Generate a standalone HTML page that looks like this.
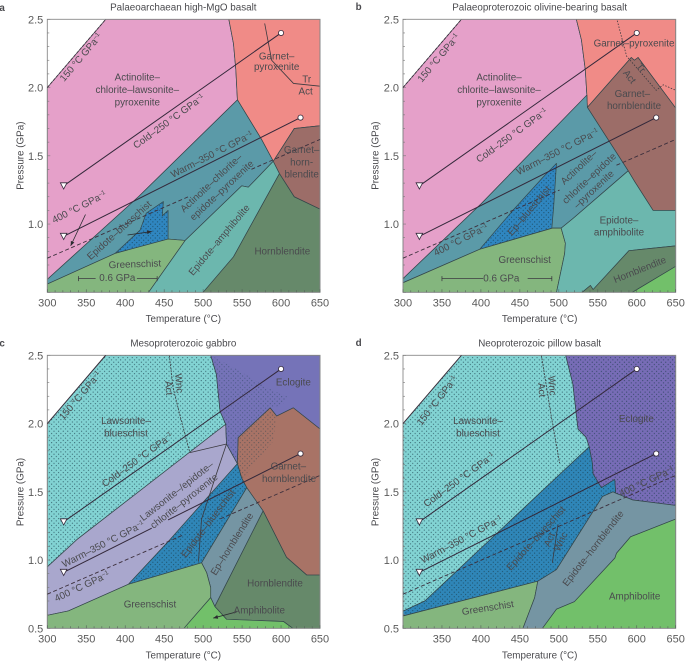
<!DOCTYPE html>
<html lang="en">
<head>
<meta charset="utf-8">
<title>Metamorphic phase diagrams</title>
<style>
html,body{margin:0;padding:0;background:#fff;width:685px;height:662px;overflow:hidden}
svg{display:block;filter:blur(0.25px)}
text{font-family:"Liberation Sans",sans-serif}
.lab text{font-size:29.5px;fill:#4a4a4e;text-anchor:middle}
.ttl{font-size:29.5px;fill:#55555a;text-anchor:middle}
.sup{font-size:19px}
.let{font-size:33px;font-weight:bold;fill:#222}
</style>
</head>
<body>
<svg id="chart" xmlns="http://www.w3.org/2000/svg" width="685" height="662" viewBox="0 0 685 662">
<defs>
<pattern id="dots" patternUnits="userSpaceOnUse" width="4.6" height="4.6">
<circle cx="1.1" cy="1.1" r="0.48" fill="#173a48"/>
<circle cx="3.4" cy="3.4" r="0.48" fill="#173a48"/>
</pattern>
</defs>
<g id="marks"></g>

<g transform="scale(0.33333)" class="lab">
<text class="let" x="-2" y="33" style="text-anchor:start">a</text>
<text class="ttl" x="550" y="31">Palaeoarchaean high-MgO basalt</text>
<text x="550" y="966">Temperature (°C)</text>
<text transform="translate(70,467) rotate(-90)">Pressure (GPa)</text>
<text transform="translate(250,178) rotate(-50)">150 °C GPa<tspan class="sup" dy="-10">–1</tspan></text>
<text x="412" y="241">Actinolite–</text>
<text x="412" y="279">chlorite–lawsonite–</text>
<text x="412" y="316">pyroxenite</text>
<text transform="translate(512,372) rotate(-36)">Cold–250 °C GPa<tspan class="sup" dy="-10">–1</tspan></text>
<text transform="translate(640,472) rotate(-27)">Warm–350 °C GPa<tspan class="sup" dy="-10">–1</tspan></text>
<text transform="translate(242,630) rotate(-27)">400 °C GPa<tspan class="sup" dy="-10">–1</tspan></text>
<text transform="translate(640,556) rotate(-43)">Actinoite–chlorite–</text>
<text transform="translate(672,578) rotate(-43)">epidote–pyroxenite</text>
<text transform="translate(364,698) rotate(-42)">Epidote–blueschist</text>
<text transform="translate(405,802) rotate(-2)">Greenschist</text>
<text x="352" y="843">0.6 GPa</text>
<text transform="translate(665,726) rotate(-50)">Epidote–amphibolite</text>
<text x="847" y="764">Hornblendite</text>
<text x="830" y="179">Garnet–</text>
<text x="830" y="210">pyroxenite</text>
<text x="920" y="248">Tr</text>
<text x="917" y="284">Act</text>
<text x="905" y="459">Garnet–</text>
<text x="905" y="497">horn-</text>
<text x="905" y="533">blendite</text>
</g>

<g transform="translate(343,0) scale(0.33333)" class="lab">
<text class="let" x="38" y="30" style="text-anchor:start">b</text>
<text class="ttl" x="590" y="31">Palaeoproterozoic olivine-bearing basalt</text>
<text x="590" y="966">Temperature (°C)</text>
<text transform="translate(106,467) rotate(-90)">Pressure (GPa)</text>
<text transform="translate(294,180) rotate(-50)">150 °C GPa<tspan class="sup" dy="-10">–1</tspan></text>
<text x="468" y="241">Actinolite–</text>
<text x="468" y="279">chlorite–lawsonite–</text>
<text x="468" y="316">pyroxenite</text>
<text transform="translate(512,414) rotate(-36)">Cold–250 °C GPa<tspan class="sup" dy="-10">–1</tspan></text>
<text transform="translate(648,464) rotate(-27)">Warm–350 °C GPa<tspan class="sup" dy="-10">–1</tspan></text>
<text transform="translate(358,728) rotate(-27)">400 °C GPa<tspan class="sup" dy="-10">–1</tspan></text>
<text transform="translate(714,509) rotate(-43)">Actinolite–</text>
<text transform="translate(745,542) rotate(-43)">chlorite–epidote</text>
<text transform="translate(759,575) rotate(-43)">–pyroxenite</text>
<text transform="translate(566,638) rotate(-50)">Ep–blueschist</text>
<text x="545" y="789">Greenschist</text>
<text x="475" y="845">0.6 GPa</text>
<text x="828" y="671">Epidote–</text>
<text x="828" y="707">amphibolite</text>
<text transform="translate(894,818) rotate(-22)">Hornblendite</text>
<text x="873" y="140">Garnet–pyroxenite</text>
<text transform="translate(886,210) rotate(52)">Tr</text>
<text transform="translate(852,236) rotate(52)">Act</text>
<text x="868" y="291">Garnet–</text>
<text x="873" y="327">hornblendite</text>
</g>

<g transform="translate(0,331) scale(0.33333)" class="lab">
<text class="let" x="-2" y="46" style="text-anchor:start">c</text>
<text class="ttl" x="550" y="46">Mesoproterozoic gabbro</text>
<text x="550" y="983">Temperature (°C)</text>
<text transform="translate(70,483) rotate(-90)">Pressure (GPa)</text>
<text transform="translate(248,200) rotate(-50)">150 °C GPa<tspan class="sup" dy="-10">–1</tspan></text>
<text x="378" y="279">Lawsonite–</text>
<text x="378" y="316">blueschist</text>
<text transform="translate(418,394) rotate(-36)">Cold–250 °C GPa<tspan class="sup" dy="-10">–1</tspan></text>
<text transform="translate(314,648) rotate(-27)">Warm–350 °C GPa<tspan class="sup" dy="-10">–1</tspan></text>
<text transform="translate(250,775) rotate(-25)">400 °C GPa<tspan class="sup" dy="-10">–1</tspan></text>
<text transform="translate(536,488) rotate(-38)">Lawsonite–/epidote–</text>
<text transform="translate(558,518) rotate(-38)">chlorite–pyroxenite</text>
<text transform="translate(632,583) rotate(-53)">Epidote–blueschist</text>
<text transform="translate(704,644) rotate(-58)">Ep–hornblendite</text>
<text x="825" y="766">Hornblendite</text>
<text x="450" y="830">Greenschist</text>
<text x="778" y="848">Amphibolite</text>
<text x="880" y="164">Eclogite</text>
<text x="865" y="416">Garnet–</text>
<text x="867" y="453">hornblendite</text>
<text transform="translate(528,158) rotate(85)">Wnc</text>
<text transform="translate(497,172) rotate(85)">Act</text>
</g>

<g transform="translate(343,331) scale(0.33333)" class="lab">
<text class="let" x="38" y="45" style="text-anchor:start">d</text>
<text class="ttl" x="590" y="46">Neoproterozoic pillow basalt</text>
<text x="590" y="983">Temperature (°C)</text>
<text transform="translate(106,483) rotate(-90)">Pressure (GPa)</text>
<text transform="translate(290,215) rotate(-52)">150 °C GPa<tspan class="sup" dy="-10">–1</tspan></text>
<text x="405" y="279">Lawsonite–</text>
<text x="405" y="316">blueschist</text>
<text transform="translate(354,454) rotate(-36)">Cold–250 °C GPa<tspan class="sup" dy="-10">–1</tspan></text>
<text transform="translate(360,634) rotate(-28)">Warm–350 °C GPa<tspan class="sup" dy="-10">–1</tspan></text>
<text x="880" y="273">Eclogite</text>
<text transform="translate(915,460) rotate(-25)">400 °C GPa<tspan class="sup" dy="-10">–1</tspan></text>
<text transform="translate(586,628) rotate(-48)">Epidote–blueschist</text>
<text transform="translate(628,630) rotate(-65)">Act</text>
<text transform="translate(662,636) rotate(-65)">Wnc</text>
<text transform="translate(758,658) rotate(-52)">Epidote–hornblendite</text>
<text transform="translate(436,840) rotate(-9)">Greenschist</text>
<text x="875" y="805">Amphibolite</text>
<text transform="translate(618,165) rotate(85)">Wnc</text>
<text transform="translate(587,178) rotate(85)">Act</text>
</g>
</svg>

<script>
// Axis data shared by all panels
const xTickValues = [300, 350, 400, 450, 500, 550, 600, 650];
const yTickValues = [0.5, 1.0, 1.5, 2.0, 2.5];
const xMinorTicks = [310,320,330,340,360,370,380,390,410,420,430,440,460,470,480,490,510,520,530,540,560,570,580,590,610,620,630,640];
const yMinorTicks = [0.6,0.7,0.8,0.9,1.1,1.2,1.3,1.4,1.6,1.7,1.8,1.9,2.1,2.2,2.3,2.4];

// Geotherms (temperature °C, pressure GPa)
const coldGeotherm = [[321, 1.28], [600, 2.4]];
const warmGeotherm = [[321, 0.91], [625, 1.78]];
const geotherm400 = [[300, 0.75], [650, 1.62]];
const geotherm150 = [[300, 2.0], [375, 2.5]];

// Panel a phase fields
const aActinolite = [[300,2.0],[375,2.5],[533,2.5],[539,2.32],[542,2.13],[544,1.91],[417,1.2],[300,0.595]];
const aGarnetPyroxenite = [[533,2.5],[650,2.5],[650,1.72],[617,1.7],[590,1.46],[575,1.62],[544,1.91],[542,2.13],[539,2.32]];
const aActChlEp = [[544,1.91],[575,1.62],[590,1.46],[558,1.27],[549.5,1.28],[477,0.88],[455,0.89],[387,0.785],[300,0.56],[300,0.595],[417,1.2]];
const aBlueschist = [[387,0.785],[419,0.955],[427,1.08],[449,1.165],[447.5,1.06],[455,1.1],[455,0.89]];
const aGreenschist = [[300,0.5],[430,0.5],[477,0.88],[455,0.89],[387,0.785],[300,0.56]];
const aAmphibolite = [[430,0.5],[477,0.88],[549.5,1.28],[558,1.27],[590,1.46],[598,1.37],[539,0.76],[500,0.5]];
const aHornblendite = [[500,0.5],[539,0.76],[598,1.37],[617,1.2],[650,1.11],[650,0.5]];
const aGarnetHornblendite = [[590,1.46],[617,1.7],[650,1.72],[650,1.11],[617,1.2],[598,1.37]];
const aTrAct = [[579,2.47],[588,2.2],[616,2.03],[650,2.01]];
const aScaleBar = [[340,0.6],[441,0.6]];
const aGaps400 = [[481,562]];

// Panel b phase fields
const bActinolite = [[300,2.0],[375,2.5],[522.5,2.5],[529,2.35],[534,2.13],[536,1.945],[400.5,1.15],[300,0.6]];
const bGarnetPyroxenite = [[522.5,2.5],[650,2.5],[650,1.85],[601.7,2.22],[597,2.2],[593,2.22],[536.6,1.855],[536,1.945],[534,2.13],[529,2.35]];
const bGarnetHornblendite = [[536.6,1.855],[593,2.22],[597,2.2],[601.7,2.22],[650,1.85],[650,1.1],[621,1.1],[597.4,1.31],[589,1.39]];
const bActChlEp = [[536,1.945],[536.6,1.855],[589,1.39],[518,1.04],[503,0.97],[491.7,0.97],[398.4,0.815],[300,0.57],[300,0.6],[400.5,1.15]];
const bBlueschist = [[398.4,0.815],[441,1.1],[480,1.345],[497,1.445],[493.4,1.13],[491,0.97]];
const bGreenschist = [[300,0.5],[497,0.5],[507.5,0.785],[508.4,0.86],[503,0.97],[491.7,0.97],[398.4,0.815],[300,0.57]];
const bAmphibolite = [[503,0.97],[518,1.04],[589,1.39],[597.4,1.31],[621,1.1],[650,1.1],[650,0.84],[590,0.805],[544,0.52],[540.5,0.55],[530,0.5],[497,0.5],[507.5,0.785],[508.4,0.86]];
const bHornblendite = [[530,0.5],[540.5,0.55],[544,0.52],[590,0.805],[650,0.84],[650,0.69],[594.4,0.5]];
const bLowField = [[594.4,0.5],[650,0.69],[650,0.5]];
const bTrAct = [[575,2.49],[587,2.23],[625,1.98],[634,2.02],[650,1.98]];
const bScaleBar = [[350,0.6],[491,0.6]];
const bGaps400 = [[501,574]];

// Panel c phase fields
const cLawsonite = [[300,2.0],[374.5,2.5],[509.7,2.5],[517,2.36],[521.7,2.09],[529,1.995],[338,1.15],[300,0.95]];
const cLavender = [[300,0.95],[338,1.15],[529,1.995],[530,1.85],[544,1.706],[457.5,1.15],[404,0.822],[327,0.627],[300,0.595]];
const cBlueschist = [[404,0.822],[457.5,1.15],[544,1.706],[549.5,1.6],[556,1.53],[498,0.98]];
const cEpHornblendite = [[498,0.98],[556,1.53],[577,1.36],[515,0.66],[509.7,0.725],[509.7,0.798],[504.5,0.908]];
const cGreenschist = [[300,0.5],[475.4,0.5],[509.7,0.725],[509.7,0.798],[504.5,0.908],[498,0.98],[404,0.822],[327,0.627],[300,0.595]];
const cAmphibolite = [[475.4,0.5],[509.7,0.725],[515,0.66],[530,0.566],[603,0.55],[615,0.5]];
const cHornblendite = [[515,0.66],[577,1.36],[607,1.02],[633,0.89],[650,0.89],[650,0.5],[615,0.5],[603,0.55],[530,0.566]];
const cGarnetHornblendite = [[556,1.53],[549.5,1.6],[544,1.706],[545,1.897],[586,2.115],[594.4,2.055],[615.8,2.115],[650,1.96],[650,0.89],[633,0.89],[607,1.02],[577,1.36]];
const cEclogite = [[509.7,2.5],[650,2.5],[650,1.96],[615.8,2.115],[594.4,2.055],[586,2.115],[545,1.897],[544,1.706],[530,1.85],[529,1.995],[521.7,2.09],[517,2.36]];
const cEclogiteDots = [[509.7,2.5],[547.3,2.385],[581.6,2.263],[607.2,2.2],[605,2.153],[581.6,2.09],[545,1.897],[544,1.706],[530,1.85],[529,1.995],[521.7,2.09],[517,2.36]];
const cGarnetDots = [[586,2.115],[594.4,2.055],[590,1.87],[564.4,1.7],[551.6,1.6],[549.5,1.6],[544,1.706],[545,1.897]];
const cWncAct = [[456.6,2.5],[461.5,2.26],[472,2.02],[483,1.787]];
const cInnerTop = [[483,1.787],[530,1.85]];
const cInnerSide = [[530,1.85],[517,1.63],[498,1.3],[494,0.99]];
const cGapsWarm = [[434,455]];
const cGaps400 = [[475,522]];

// Panel d phase fields
const dLawsonite = [[300,2.0],[375,2.5],[508.8,2.5],[518,2.29],[524.6,1.96],[535,1.9],[539,1.83],[328,0.7],[300,0.625]];
const dEclogite = [[508.8,2.5],[650,2.5],[650,1.4],[595,1.44],[573,1.49],[571.7,1.59],[554.6,1.53],[544,1.63],[543,1.71],[539,1.83],[535,1.9],[524.6,1.96],[518,2.29]];
const dBlueschist = [[539,1.83],[543,1.71],[544,1.63],[554.6,1.53],[571.7,1.59],[573,1.49],[569.6,1.5],[556,1.465],[497,0.93],[473,0.845],[300,0.59],[300,0.625],[328,0.7]];
const dGreenschist = [[300,0.5],[454,0.5],[469,0.725],[473,0.845],[300,0.59]];
const dEpHornblendite = [[454,0.5],[469,0.725],[473,0.845],[497,0.93],[556,1.465],[569.6,1.5],[573,1.49],[595,1.44],[650,1.4],[650,1.3],[592,1.17],[574,1.05],[572,1.015],[520,0.695],[497,0.64],[479,0.5]];
const dAmphibolite = [[479,0.5],[497,0.64],[520,0.695],[572,1.015],[574,1.05],[592,1.17],[650,1.3],[650,0.5]];
const dWncAct = [[477.6,2.5],[490.4,2.05],[501,1.71]];
const dWncActLow = [[499,1.262],[491.7,0.98]];

const SVGNS = 'http://www.w3.org/2000/svg';
const marks = document.getElementById('marks');

const panels = [
  { id:'a', left:47.3, right:320, top:19.3, bottom:292.3, xLabels:xTickValues, yLabels:[1.0,1.5,2.0,2.5],
    fields:[
      ['actinolite-chlorite-lawsonite-pyroxenite', aActinolite, '#e5a0c9', false],
      ['garnet-pyroxenite', aGarnetPyroxenite, '#f08b87', false],
      ['actinolite-chlorite-epidote-pyroxenite', aActChlEp, '#5b9aa8', false],
      ['epidote-blueschist-dotted', aBlueschist, '#2f86c0', true],
      ['greenschist', aGreenschist, '#84b67e', false],
      ['epidote-amphibolite', aAmphibolite, '#6cb7ae', false],
      ['hornblendite', aHornblendite, '#66896a', false],
      ['garnet-hornblendite', aGarnetHornblendite, '#9c6d68', false]
    ],
    lines:[['tr-act-boundary', aTrAct, ''], ['scale-bar-left', [aScaleBar[0], [362,0.6]], ''], ['scale-bar-right', [[415,0.6], aScaleBar[1]], '']],
    gapsWarm:[], gaps400:aGaps400, show150:true },
  { id:'b', left:403, right:675.7, top:19.3, bottom:292.3, xLabels:xTickValues, yLabels:[1.0,1.5,2.0,2.5],
    fields:[
      ['actinolite-chlorite-lawsonite-pyroxenite', bActinolite, '#e5a0c9', false],
      ['garnet-pyroxenite', bGarnetPyroxenite, '#f08b87', false],
      ['garnet-hornblendite', bGarnetHornblendite, '#9c6d68', false],
      ['actinolite-chlorite-epidote-pyroxenite', bActChlEp, '#5b9aa8', false],
      ['epidote-blueschist-dotted', bBlueschist, '#2f86c0', true],
      ['greenschist', bGreenschist, '#84b67e', false],
      ['epidote-amphibolite', bAmphibolite, '#6cb7ae', false],
      ['hornblendite', bHornblendite, '#66896a', false],
      ['low-temperature-green-field', bLowField, '#72c06a', false]
    ],
    lines:[['tr-act-boundary', bTrAct, '1.5 1.5'], ['scale-bar-left', [bScaleBar[0], [403,0.6]], ''], ['scale-bar-right', [[460,0.6], bScaleBar[1]], '']],
    gapsWarm:[], gaps400:bGaps400, show150:true },
  { id:'c', left:47.3, right:320, top:355.3, bottom:628.3, xLabels:xTickValues, yLabels:yTickValues,
    fields:[
      ['lawsonite-blueschist', cLawsonite, '#82d3d3', true],
      ['lavender-lawsonite-epidote-chlorite-pyroxenite', cLavender, '#a9a7cd', false],
      ['eclogite', cEclogite, '#7573b8', false],
      ['eclogite-dotted-zone', cEclogiteDots, 'none', true],
      ['garnet-hornblendite', cGarnetHornblendite, '#a87366', false],
      ['garnet-hornblendite-dotted-zone', cGarnetDots, 'none', true],
      ['epidote-blueschist', cBlueschist, '#2f86b8', true],
      ['ep-hornblendite', cEpHornblendite, '#7595a3', false],
      ['greenschist', cGreenschist, '#84b67e', false],
      ['hornblendite', cHornblendite, '#66896a', false],
      ['amphibolite', cAmphibolite, '#72c06a', false]
    ],
    lines:[['wnc-act-boundary', cWncAct, '2 1'], ['lavender-inner-top', cInnerTop, ''], ['lavender-inner-side', cInnerSide, '']],
    gapsWarm:cGapsWarm, gaps400:cGaps400, show150:false },
  { id:'d', left:403, right:675.7, top:355.3, bottom:628.3, xLabels:[350,400,450,500,550,600,650], yLabels:yTickValues,
    fields:[
      ['lawsonite-blueschist', dLawsonite, '#82d3d3', true],
      ['eclogite', dEclogite, '#776cb6', true],
      ['epidote-blueschist', dBlueschist, '#2f86b8', true],
      ['greenschist', dGreenschist, '#84b67e', false],
      ['epidote-hornblendite', dEpHornblendite, '#7595a3', false],
      ['amphibolite', dAmphibolite, '#72c06a', false]
    ],
    lines:[['wnc-act-boundary', dWncAct, '2 1'], ['wnc-act-boundary-low', dWncActLow, '']],
    gapsWarm:[], gaps400:[], show150:false }
];

function xScale(p, t) { return p.left + (t - 300) / 350 * (p.right - p.left); }
function yScale(p, v) { return p.bottom - (v - 0.5) / 2 * (p.bottom - p.top); }
function ptsAttr(p, pts) { return pts.map(function (q) { return xScale(p, q[0]).toFixed(2) + ',' + yScale(p, q[1]).toFixed(2); }).join(' '); }

function make(tag, parent, name, attrs) {
  const el = document.createElementNS(SVGNS, tag);
  
  
  for (const k in attrs) el.setAttribute(k, attrs[k]);
  parent.appendChild(el);
  return el;
}

function drawPolyline(p, g, name, pts, stroke, width, dash) {
  return make('polyline', g, name, { points: ptsAttr(p, pts), fill: 'none', stroke: stroke, 'stroke-width': width, 'stroke-dasharray': dash || 'none' });
}

// Split a two-point geotherm into visible pieces, leaving the temperature gaps open behind labels
function segments(line, gaps) {
  const t0 = line[0][0], p0 = line[0][1], t1 = line[1][0], p1 = line[1][1];
  const at = function (t) { return [t, p0 + (t - t0) / (t1 - t0) * (p1 - p0)]; };
  const out = [];
  let start = t0;
  gaps.forEach(function (gap) {
    out.push([at(start), at(gap[0])]);
    start = gap[1];
  });
  out.push([at(start), at(t1)]);
  return out;
}

function drawPanel(p) {
  const g = make('g', marks, 'panel-' + p.id, {});
  p.fields.forEach(function (f) {
    if (f[2] !== 'none') {
      make('polygon', g, 'field-' + f[0], { points: ptsAttr(p, f[1]), fill: f[2], stroke: '#34464a', 'stroke-width': 0.7, 'stroke-linejoin': 'round' });
    }
    if (f[3]) {
      const o = f[2] === 'none' ? 0.65 : 1;
      make('polygon', g, 'field-stipple-' + f[0], { points: ptsAttr(p, f[1]), fill: 'url(#dots)', stroke: 'none', opacity: o });
    }
  });

  p.lines.forEach(function (l) {
    drawPolyline(p, g, l[0], l[1], '#3c3a40', 0.8, l[2]);
  });

  // Frame
  make('rect', g, 'plot-frame', { x: p.left, y: p.top, width: p.right - p.left, height: p.bottom - p.top, fill: 'none', stroke: '#8a8a8a', 'stroke-width': 0.9 });

  // Ticks
  xMinorTicks.concat(xTickValues).forEach(function (t) {
    const len = xTickValues.indexOf(t) >= 0 ? 3 : 2;
    make('line', g, 'x-tick', { x1: xScale(p, t), x2: xScale(p, t), y1: p.bottom, y2: p.bottom - len, stroke: '#55605a', 'stroke-width': 0.6 });
  });
  yMinorTicks.concat(yTickValues).forEach(function (v) {
    const len = yTickValues.indexOf(v) >= 0 ? 3 : 2;
    make('line', g, 'y-tick', { x1: p.left, x2: p.left + len, y1: yScale(p, v), y2: yScale(p, v), stroke: '#777', 'stroke-width': 0.6 });
  });
  p.xLabels.forEach(function (t) {
    const el = make('text', g, 'x-tick-label', { x: xScale(p, t), y: p.bottom + 14, 'text-anchor': 'middle', 'font-size': 11, fill: '#5a5a5a' });
    el.textContent = String(t);
  });
  p.yLabels.forEach(function (v) {
    const el = make('text', g, 'y-tick-label', { x: p.left - 4, y: yScale(p, v) + 4, 'text-anchor': 'end', 'font-size': 11, fill: '#5a5a5a' });
    el.textContent = v.toFixed(1);
  });

  // Geotherms
  segments(geotherm400, p.gaps400).forEach(function (seg) {
    drawPolyline(p, g, 'geotherm-400-line', seg, '#3c2f3c', 0.9, '4 2.5');
  });
  drawPolyline(p, g, 'geotherm-150-line', geotherm150, '#3c2f3c', 0.9, p.show150 ? '3 1.5' : 'none');
  drawPolyline(p, g, 'cold-geotherm-line', coldGeotherm, '#33283a', 1, '');
  segments(warmGeotherm, p.gapsWarm).forEach(function (seg) {
    drawPolyline(p, g, 'warm-geotherm-line', seg, '#33283a', 1, '');
  });

  [coldGeotherm, warmGeotherm].forEach(function (line, i) {
    const sx = xScale(p, line[0][0]);
    const sy = yScale(p, line[0][1]);
    make('polygon', g, i ? 'warm-start-triangle' : 'cold-start-triangle', {
      points: (sx - 3.3) + ',' + (sy - 3) + ' ' + (sx + 3.3) + ',' + (sy - 3) + ' ' + sx + ',' + (sy + 3.2),
      fill: '#fff', stroke: '#33283a', 'stroke-width': 0.8
    });
    make('circle', g, i ? 'warm-end-circle' : 'cold-end-circle', {
      cx: xScale(p, line[1][0]), cy: yScale(p, line[1][1]), r: 2.6, fill: '#fff', stroke: '#33283a', 'stroke-width': 0.8
    });
  });
}

panels.forEach(drawPanel);

// Arrows and scale-bar end caps drawn in panel data coordinates
function arrow(p, name, from, to) {
  const g = make('g', marks, name, {});
  const x1 = xScale(p, from[0]), y1 = yScale(p, from[1]), x2 = xScale(p, to[0]), y2 = yScale(p, to[1]);
  make('line', g, name + '-shaft', { x1: x1, y1: y1, x2: x2, y2: y2, stroke: '#2a2a30', 'stroke-width': 0.8 });
  const a = Math.atan2(y2 - y1, x2 - x1);
  const hx = function (r, d) { return (x2 - r * Math.cos(a + d)).toFixed(2) + ',' + (y2 - r * Math.sin(a + d)).toFixed(2); };
  make('polygon', g, name + '-head', { points: x2 + ',' + y2 + ' ' + hx(5, 0.4) + ' ' + hx(5, -0.4), fill: '#2a2a30' });
}
arrow(panels[0], 'arrow-to-400-geotherm', [349, 1.07], [330, 0.84]);
arrow(panels[0], 'arrow-to-blueschist', [403, 0.92], [434, 0.945]);
arrow(panels[2], 'arrow-to-amphibolite', [543, 0.62], [513, 0.575]);

function cap(p, name, t, v) {
  make('line', marks, name, { x1: xScale(p, t), x2: xScale(p, t), y1: yScale(p, v) - 2.5, y2: yScale(p, v) + 2.5, stroke: '#3c3a40', 'stroke-width': 0.8 });
}
cap(panels[0], 'scale-bar-cap-left', aScaleBar[0][0], aScaleBar[0][1]);
cap(panels[0], 'scale-bar-cap-right', aScaleBar[1][0], aScaleBar[1][1]);
cap(panels[1], 'scale-bar-cap-left', bScaleBar[0][0], bScaleBar[0][1]);
cap(panels[1], 'scale-bar-cap-right', bScaleBar[1][0], bScaleBar[1][1]);
</script>
</body>
</html>
